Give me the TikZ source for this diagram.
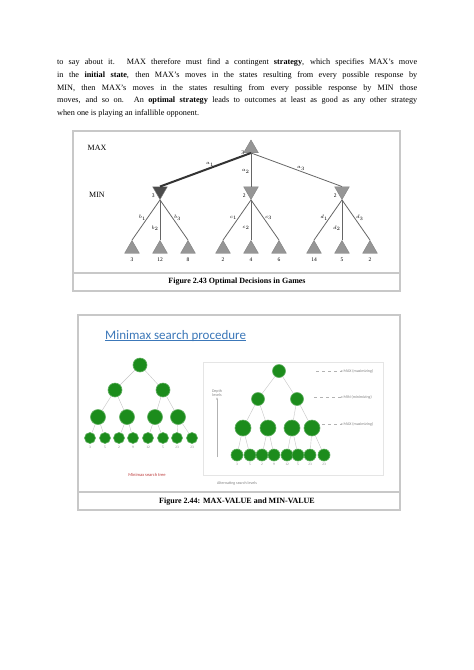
\documentclass[tikz,border=0pt]{standalone}
\usepackage{fontspec}
\setmainfont{Liberation Serif}
\newfontfamily\slidefont{Carlito}
\usetikzlibrary{shapes.geometric,positioning,arrows.meta}

\definecolor{framegray}{RGB}{200,200,200}
\definecolor{nodegray}{RGB}{150,150,150}
\definecolor{leafgreen}{RGB}{28,140,28}
\definecolor{titleblue}{RGB}{60,120,185}
\definecolor{notered}{RGB}{190,60,60}

\begin{document}
\begin{tikzpicture}[x=1pt,y=-1pt]

\tikzset{
	frame/.style={
		draw=framegray,
		line width=1.1pt
	}
}

\tikzset{
	maxnode/.style={
		regular polygon,
		regular polygon sides=3,
		fill=nodegray,
		draw=gray,
		minimum size=17pt,
		inner sep=0pt
	},
	minnode/.style={
		maxnode,
		shape border rotate=180
	},
	edge/.style={
		draw=gray!80!black,
		line width=0.8pt
	},
	elbl/.style={
		font=\fontsize{4.5}{5}\selectfont,
		inner sep=1pt
	},
	vlbl/.style={
		font=\fontsize{5.5}{6}\selectfont,
		inner sep=1pt
	}
}

\tikzset{
	gnode/.style={
		circle,
		fill=leafgreen,
		draw=leafgreen!70,
		line width=0.6pt,
		inner sep=0pt,
		minimum size=#1
	},
	gedge/.style={
		draw=gray!45,
		line width=0.4pt
	},
	tiny/.style={
		font=\fontsize{3.5}{4}\selectfont,
		text=gray,
		inner sep=0.5pt
	}
}

\def\capsize{\bfseries\fontsize{8}{9}\selectfont}

\useasboundingbox[fill=white] (0,0) rectangle (474,670);

% text above the figures
\node[anchor=north west, text width=360pt, align=justify, inner sep=0pt,
	font=\fontsize{8.2}{12.6}\selectfont] (para) at (57,59) {%
to say about it. MAX therefore must find a contingent \textbf{strategy}, which specifies MAX's move\linebreak
in the \textbf{initial state}, then MAX's moves in the states resulting from every possible response by\linebreak
MIN, then MAX's moves in the states resulting from every possible response by MIN those\linebreak
moves, and so on. An \textbf{optimal strategy} leads to outcomes at least as good as any other strategy\linebreak
when one is playing an infallible opponent.};

% first figure: game tree
\draw[frame] (73,131) rectangle (400,291);
\draw[frame] (73,273) -- (400,273);

\node[font=\fontsize{8}{9}\selectfont] (maxlbl) at (97,148) {MAX};
\node[font=\fontsize{8}{9}\selectfont] (minlbl) at (97,195) {MIN};

\node[maxnode, label={[vlbl]190:3}] (root) at (251,148.5) {};

\node[minnode, fill=gray!60!black, label={[vlbl]200:3}] (mA) at (160,191) {};
\node[minnode, label={[vlbl]200:2}] (mB) at (251,191) {};
\node[minnode, label={[vlbl]200:2}] (mC) at (342,191) {};

\node[maxnode] (lA1) at (132,249) {};
\node[maxnode] (lA2) at (160,249) {};
\node[maxnode] (lA3) at (188,249) {};
\node[maxnode] (lB1) at (223,249) {};
\node[maxnode] (lB2) at (251,249) {};
\node[maxnode] (lB3) at (279,249) {};
\node[maxnode] (lC1) at (314,249) {};
\node[maxnode] (lC2) at (342,249) {};
\node[maxnode] (lC3) at (370,249) {};

\node[vlbl, below=3pt of lA1] {3};
\node[vlbl, below=3pt of lA2] {12};
\node[vlbl, below=3pt of lA3] {8};
\node[vlbl, below=3pt of lB1] {2};
\node[vlbl, below=3pt of lB2] {4};
\node[vlbl, below=3pt of lB3] {6};
\node[vlbl, below=3pt of lC1] {14};
\node[vlbl, below=3pt of lC2] {5};
\node[vlbl, below=3pt of lC3] {2};

\draw[edge, line width=2pt, draw=gray!40!black] (root.south) -- node[elbl, above, pos=.45] {$a_1$} (mA.north);
\draw[edge] (root.south) -- node[elbl, left, pos=.55] {$a_2$} (mB.north);
\draw[edge] (root.south) -- node[elbl, above, pos=.55] {$a_3$} (mC.north);

\draw[edge] (mA.south) -- node[elbl, left, pos=.45] {$b_1$} (lA1.north);
\draw[edge] (mA.south) -- node[elbl, left, pos=.7] {$b_2$} (lA2.north);
\draw[edge] (mA.south) -- node[elbl, right, pos=.45] {$b_3$} (lA3.north);
\draw[edge] (mB.south) -- node[elbl, left, pos=.45] {$c_1$} (lB1.north);
\draw[edge] (mB.south) -- node[elbl, left, pos=.7] {$c_2$} (lB2.north);
\draw[edge] (mB.south) -- node[elbl, right, pos=.45] {$c_3$} (lB3.north);
\draw[edge] (mC.south) -- node[elbl, left, pos=.45] {$d_1$} (lC1.north);
\draw[edge] (mC.south) -- node[elbl, left, pos=.7] {$d_2$} (lC2.north);
\draw[edge] (mC.south) -- node[elbl, right, pos=.45] {$d_3$} (lC3.north);

\node[font=\capsize] (capA) at (237,282) {Figure 2.43 Optimal Decisions in Games};

% second figure: minimax slide
\draw[frame] (78,315) rectangle (400,510);
\draw[frame] (78,492) -- (400,492);

\node[anchor=base west, inner sep=0pt, text=titleblue,
	font=\slidefont\fontsize{13}{14}\selectfont] (ttl) at (105,339) {Minimax search procedure};
\draw[titleblue, line width=0.5pt] ([yshift=-1.5pt]ttl.base west) -- ([yshift=-1.5pt]ttl.base east);

% left tree
\node[gnode=14pt] (L0) at (140,365) {};
\foreach \i/\x in {1/115,2/163}
	\node[gnode=14pt] (L1-\i) at (\x,390) {};
\foreach \i/\x in {1/98,2/127,3/155,4/178}
	\node[gnode=15pt] (L2-\i) at (\x,417) {};
\foreach \i/\x/\v in {1/90/3,2/105/5,3/119/2,4/133/9,5/148/12,6/163/5,7/177/23,8/192/23}{
	\node[gnode=11pt] (L3-\i) at (\x,438) {};
	\node[tiny, below=1.5pt of L3-\i] {\v};
}
\foreach \i in {1,2}
	\draw[gedge] (L0) -- (L1-\i);
\foreach \i/\p in {1/1,2/1,3/2,4/2}
	\draw[gedge] (L1-\p) -- (L2-\i);
\foreach \i/\p in {1/1,2/1,3/2,4/2,5/3,6/3,7/4,8/4}
	\draw[gedge] (L2-\p) -- (L3-\i);

\node[font=\slidefont\fontsize{4.5}{5}\selectfont, text=notered] (lnote) at (147,475) {Minimax search tree};

% right panel
\draw[draw=gray!20, line width=0.5pt] (203,362) rectangle (383,475);

\node[gnode=13pt] (R0) at (279,371) {};
\foreach \i/\x in {1/258,2/297}
	\node[gnode=13pt] (R1-\i) at (\x,399) {};
\foreach \i/\x in {1/243,2/268,3/292,4/312}
	\node[gnode=16pt] (R2-\i) at (\x,428) {};
\foreach \i/\x/\v in {1/237/3,2/250/5,3/262/2,4/274/9,5/287/12,6/298/5,7/310/23,8/324/23}{
	\node[gnode=12pt] (R3-\i) at (\x,455) {};
	\node[tiny, below=1.5pt of R3-\i] {\v};
}
\foreach \i in {1,2}
	\draw[gedge] (R0) -- (R1-\i);
\foreach \i/\p in {1/1,2/1,3/2,4/2}
	\draw[gedge] (R1-\p) -- (R2-\i);
\foreach \i/\p in {1/1,2/1,3/2,4/2,5/3,6/3,7/4,8/4}
	\draw[gedge] (R2-\p) -- (R3-\i);

% depth arrow
\node[tiny, align=center, font=\slidefont\fontsize{4}{4.5}\selectfont] (depth) at (217,393) {Depth\\levels};
\coordinate (dbot) at (217,457);
\draw[gray!60, line width=0.4pt, -{Stealth[length=2.5pt]}] (dbot) -- (depth.south);

% level notes
\node[tiny, anchor=west, font=\slidefont\fontsize{4}{4.5}\selectfont] (lv1) at (343,371) {MAX (maximizing)};
\node[tiny, anchor=west, font=\slidefont\fontsize{4}{4.5}\selectfont] (lv2) at (343,397) {MIN (minimizing)};
\node[tiny, anchor=west, font=\slidefont\fontsize{4}{4.5}\selectfont] (lv3) at (343,424) {MAX (maximizing)};
\coordinate (lp1) at (316,371);
\coordinate (lp2) at (314,397);
\coordinate (lp3) at (322,424);
\draw[gray!60, dashed, line width=0.4pt, -{Stealth[length=2pt]}] (lp1) -- (lv1.west);
\draw[gray!60, dashed, line width=0.4pt, -{Stealth[length=2pt]}] (lp2) -- (lv2.west);
\draw[gray!60, dashed, line width=0.4pt, -{Stealth[length=2pt]}] (lp3) -- (lv3.west);

\node[tiny, font=\slidefont\fontsize{4}{4.5}\selectfont] (rnote) at (237,483) {Alternating search levels};

\node[font=\capsize] (capB) at (237,502) {Figure 2.44: MAX-VALUE and MIN-VALUE};

\end{tikzpicture}
\end{document}
